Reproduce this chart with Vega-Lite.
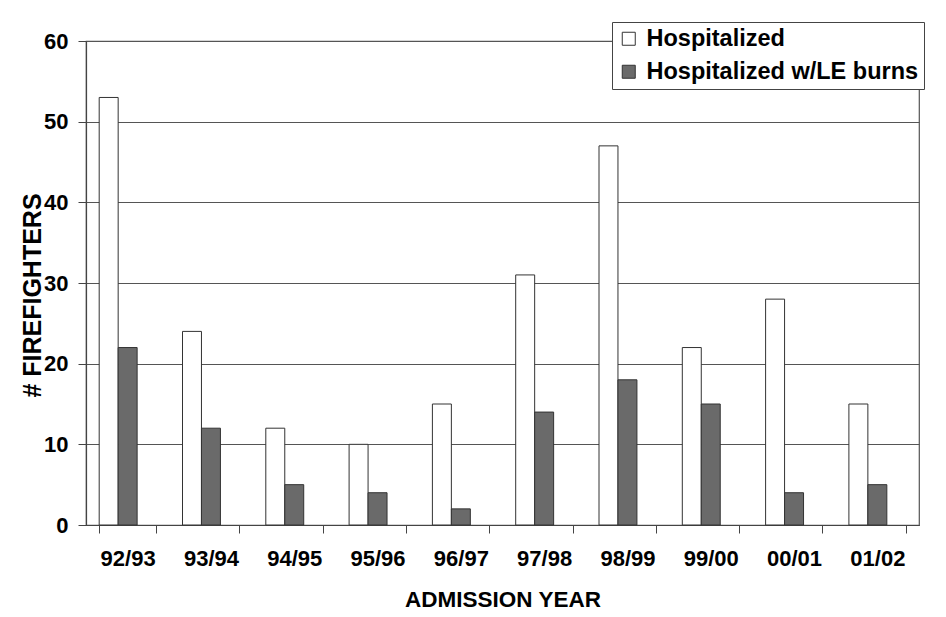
{
  "$schema": "https://vega.github.io/schema/vega-lite/v6.json",
  "width": 833,
  "height": 484,
  "autosize": {"type": "none"},
  "padding": {"left": 86, "top": 41, "right": 27, "bottom": 92},
  "background": "white",
  "config": {
    "font": "Liberation Sans",
    "view": {"stroke": "#555", "strokeWidth": 1.2},
    "axis": {"labelFont": "Liberation Sans", "titleFont": "Liberation Sans", "labelColor": "black", "titleColor": "black", "domainColor": "#444", "tickColor": "#444", "gridColor": "#555"}
  },
  "data": {
    "values": [
      {"year": "92/93", "series": "Hospitalized", "count": 53},
      {"year": "93/94", "series": "Hospitalized", "count": 24},
      {"year": "94/95", "series": "Hospitalized", "count": 12},
      {"year": "95/96", "series": "Hospitalized", "count": 10},
      {"year": "96/97", "series": "Hospitalized", "count": 15},
      {"year": "97/98", "series": "Hospitalized", "count": 31},
      {"year": "98/99", "series": "Hospitalized", "count": 47},
      {"year": "99/00", "series": "Hospitalized", "count": 22},
      {"year": "00/01", "series": "Hospitalized", "count": 28},
      {"year": "01/02", "series": "Hospitalized", "count": 15},
      {"year": "92/93", "series": "Hospitalized w/LE burns", "count": 22},
      {"year": "93/94", "series": "Hospitalized w/LE burns", "count": 12},
      {"year": "94/95", "series": "Hospitalized w/LE burns", "count": 5},
      {"year": "95/96", "series": "Hospitalized w/LE burns", "count": 4},
      {"year": "96/97", "series": "Hospitalized w/LE burns", "count": 2},
      {"year": "97/98", "series": "Hospitalized w/LE burns", "count": 14},
      {"year": "98/99", "series": "Hospitalized w/LE burns", "count": 18},
      {"year": "99/00", "series": "Hospitalized w/LE burns", "count": 15},
      {"year": "00/01", "series": "Hospitalized w/LE burns", "count": 4},
      {"year": "01/02", "series": "Hospitalized w/LE burns", "count": 5}
    ]
  },
  "mark": {"type": "bar", "stroke": "#333", "strokeWidth": 1},
  "encoding": {
    "x": {
      "field": "year",
      "type": "nominal",
      "sort": null,
      "scale": {"paddingInner": 0.317, "paddingOuter": 0.1585},
      "axis": {
        "title": "ADMISSION YEAR",
        "titleFontSize": 22.5,
        "titleFontWeight": "bold",
        "titlePadding": 19,
        "labelAngle": 0,
        "labelFontSize": 22,
        "labelFontWeight": "bold",
        "labelPadding": 15,
        "tickBand": "extent",
        "tickSize": 8,
        "grid": false,
        "domainWidth": 1.2
      }
    },
    "xOffset": {
      "field": "series",
      "type": "nominal",
      "scale": {"domain": ["Hospitalized", "Hospitalized w/LE burns", "(none)"], "paddingInner": 0, "paddingOuter": 0}
    },
    "y": {
      "field": "count",
      "type": "quantitative",
      "scale": {"domain": [0, 60], "nice": false},
      "axis": {
        "title": "#  FIREFIGHTERS",
        "titleFontSize": 25,
        "titleFontWeight": "bold",
        "titleX": -54,
        "titleY": 254,
        "titleAlign": "center",
        "titleBaseline": "middle",
        "values": [0, 10, 20, 30, 40, 50, 60],
        "labelFontSize": 22,
        "labelFontWeight": "bold",
        "labelPadding": 10,
        "tickSize": 8,
        "grid": true,
        "gridWidth": 1.2,
        "domainWidth": 1.2
      }
    },
    "color": {
      "field": "series",
      "type": "nominal",
      "scale": {"domain": ["Hospitalized", "Hospitalized w/LE burns"], "range": ["#ffffff", "#6a6a6a"]},
      "legend": {
        "title": null,
        "orient": "none",
        "legendX": 526,
        "legendY": -19,
        "direction": "vertical",
        "fillColor": "white",
        "strokeColor": "#444",
        "padding": 5,
        "symbolType": "square",
        "symbolSize": 169,
        "symbolStrokeColor": "#333",
        "symbolStrokeWidth": 1,
        "labelFontSize": 23.5,
        "labelFontWeight": "bold",
        "labelColor": "black",
        "labelOffset": 6,
        "rowPadding": 8,
        "labelLimit": 400
      }
    }
  }
}
